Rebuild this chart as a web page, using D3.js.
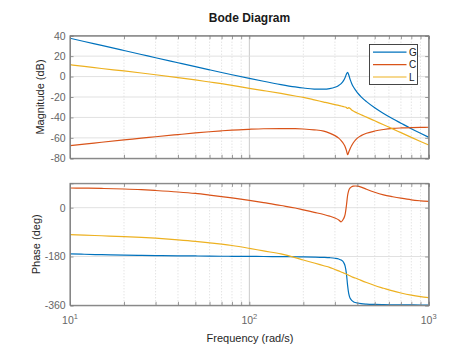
<!DOCTYPE html>
<html><head><meta charset="utf-8">
<script src="https://cdn.jsdelivr.net/npm/d3@7"></script>
<style>body{margin:0;background:#fff}svg{display:block;font-family:"Liberation Sans",Arial,sans-serif}</style>
</head><body><svg id="c" width="474" height="355"></svg>
<script>
const freq=[10,12,15,20,25,30,40,50,60,70,80,100,120,150,180,200,230,260,280,300,315,325,335,342,348,353,358,365,372,380,390,400,420,450,500,560,630,700,800,900,1000];
// Magnitude (dB)
const gMag=[37.5,34.3,30.5,25.5,21.6,18.4,13.5,9.7,6.6,4.0,1.8,-1.8,-4.6,-7.8,-10.1,-11.2,-12.2,-12.3,-11.8,-10.5,-8.7,-6.9,-4.0,-0.9,2.5,4.2,1.8,-3.0,-6.7,-10.0,-13.1,-15.7,-19.8,-24.5,-30.5,-36.1,-41.3,-45.6,-51.0,-55.5,-59.4];
const cMag=[-67.6,-66.2,-64.3,-62.0,-60.3,-58.9,-56.8,-55.2,-54.0,-53.1,-52.4,-51.6,-51.1,-50.9,-51.0,-51.3,-52.1,-53.4,-55.4,-57.8,-60.3,-62.8,-65.8,-68.6,-72.5,-76.5,-74.0,-70.5,-67.5,-64.8,-62.2,-60.2,-57.8,-55.5,-53.3,-51.8,-50.8,-50.3,-49.9,-49.7,-49.6];
const lMag=[11.6,10.0,7.9,5.5,3.5,1.8,-1.0,-3.3,-5.3,-7.0,-8.6,-11.5,-13.7,-16.5,-19.0,-20.4,-22.8,-25.0,-26.3,-27.4,-28.2,-28.8,-29.4,-29.8,-30.4,-31.2,-30.4,-31.3,-32.7,-33.8,-34.8,-35.6,-37.4,-39.7,-43.3,-47.2,-51.2,-54.9,-59.5,-63.5,-67.0];
// Phase (deg)
const gPh=[-170,-171.7,-173.3,-175.0,-176.0,-176.6,-177.5,-178.0,-178.6,-179.0,-179.2,-179.6,-180.0,-180.4,-180.9,-181.3,-182.0,-183.1,-184.3,-186.4,-189.4,-193.2,-201.4,-215.3,-245.0,-286.7,-316.4,-334.3,-342.0,-346.5,-349.8,-351.6,-353.9,-355.6,-356.9,-357.6,-358.1,-358.5,-358.7,-358.9,-359.0];
const cPh=[72.7,72.2,71.0,69.0,66.5,63.5,58.0,52.5,46.5,41.0,36.0,27.0,19.0,8.0,-1.0,-8.0,-17.0,-25.0,-31.0,-38.0,-45.0,-52.0,-41.0,-25.0,10.0,45.0,63.0,73.0,77.5,79.5,80.0,79.5,76.0,68.0,57.0,47.5,40.5,35.0,29.0,25.5,23.0];
const lPh=[-99,-101,-103.5,-106.5,-109.5,-112.5,-118.5,-124,-129.5,-134.5,-139.5,-150,-159.5,-170.5,-184,-193,-204,-214,-220,-228,-233,-237,-240.5,-243,-245,-247,-249,-252,-254.5,-257,-259.5,-262,-268,-276,-287,-297,-307,-314.5,-322.5,-328,-332];
const seriesNames=["G","C","L"];
const colors=["#0072BD","#D95319","#EDB120"];
const magTicks=[-80,-60,-40,-20,0,20,40];
const phTicks=[-360,-180,0];
const xMajor=[10,100,1000];
const xMinor=[20,30,40,50,60,70,80,90,200,300,400,500,600,700,800,900];

const svg=d3.select("#c");
const x=d3.scaleLog().domain([10,1000]).range([70,428.7]);
const yM=d3.scaleLinear().domain([-80,40]).range([158.3,35.7]);
const yP=d3.scaleLinear().domain([-360,90]).range([305.3,183.3]);

function panel(y,ticks,series,id,showX){
  const [y0,y1]=y.range();
  const g=svg.append("g");
  g.append("rect").attr("x",70).attr("y",y1).attr("width",358.7).attr("height",y0-y1).attr("fill","#fff");
  g.selectAll(".mn").data(xMinor).enter().append("line")
    .attr("x1",d=>x(d)).attr("x2",d=>x(d)).attr("y1",y1).attr("y2",y0)
    .attr("stroke","#cfcfcf").attr("stroke-width",0.8).attr("stroke-dasharray","1,2");
  g.selectAll(".mj").data(xMajor).enter().append("line")
    .attr("x1",d=>x(d)).attr("x2",d=>x(d)).attr("y1",y1).attr("y2",y0)
    .attr("stroke","#c4c4c4").attr("stroke-width",0.9);
  g.selectAll(".yg").data(ticks).enter().append("line")
    .attr("x1",70).attr("x2",428.7).attr("y1",d=>y(d)).attr("y2",d=>y(d))
    .attr("stroke","#dedede").attr("stroke-width",0.9);
  g.append("clipPath").attr("id",id).append("rect").attr("x",70).attr("y",y1).attr("width",358.7).attr("height",y0-y1);
  const line=d3.line().x((d,i)=>x(freq[i])).y(d=>y(d)).curve(d3.curveMonotoneX);
  series.forEach((s,k)=>{
    g.append("path").attr("d",line(s)).attr("fill","none").attr("stroke",colors[k])
      .attr("stroke-width",1.2).attr("clip-path","url(#"+id+")");
  });
  const tl=3.5;
  const bottom=g.append("g").attr("transform","translate(0,"+y0+")")
    .call(d3.axisBottom(x).tickValues(xMajor.concat(xMinor)).tickSize(-tl).tickFormat(""));
  const top=g.append("g").attr("transform","translate(0,"+y1+")")
    .call(d3.axisTop(x).tickValues(xMajor.concat(xMinor)).tickSize(-tl).tickFormat(""));
  const left=g.append("g").attr("transform","translate(70,0)")
    .call(d3.axisLeft(y).tickValues(ticks).tickSize(-tl).tickPadding(4.3).tickFormat(d=>String(d)));
  const right=g.append("g").attr("transform","translate(428.7,0)")
    .call(d3.axisRight(y).tickValues(ticks).tickSize(-tl).tickFormat(""));
  [bottom,top,left,right].forEach(a=>{
    a.select(".domain").attr("stroke","#808080").attr("stroke-width",0.9);
    a.selectAll(".tick line").attr("stroke","#808080").attr("stroke-width",0.8);
  });
  left.selectAll(".tick text").attr("fill","#666").attr("font-size","10.5px")
    .attr("font-family","'Liberation Sans',Arial,sans-serif");
  g.append("rect").attr("x",70).attr("y",y1).attr("width",358.7).attr("height",y0-y1)
    .attr("fill","none").attr("stroke","#808080").attr("stroke-width",0.9);
  if(showX){
    xMajor.forEach(v=>{
      const t=g.append("text").attr("x",x(v)).attr("y",y0+18.5).attr("text-anchor","middle")
        .attr("fill","#666").attr("font-size","10.5px");
      t.append("tspan").text("10");
      t.append("tspan").attr("dy",-5).attr("font-size","7.5px").text(String(Math.round(Math.log10(v))));
    });
  }
}
panel(yM,magTicks,[gMag,cMag,lMag],"clipM",false);
panel(yP,phTicks,[gPh,cPh,lPh],"clipP",true);

svg.append("text").attr("x",249.5).attr("y",21.7).attr("text-anchor","middle")
  .attr("font-weight","bold").attr("font-size","12px").attr("fill","#1a1a1a").text("Bode Diagram");
svg.append("text").attr("transform","translate(44.3,97) rotate(-90)").attr("text-anchor","middle")
  .attr("font-size","11px").attr("fill","#262626").text("Magnitude (dB)");
svg.append("text").attr("transform","translate(39.5,244.3) rotate(-90)").attr("text-anchor","middle")
  .attr("font-size","11px").attr("fill","#262626").text("Phase (deg)");
svg.append("text").attr("x",250).attr("y",341.5).attr("text-anchor","middle")
  .attr("font-size","11px").attr("fill","#262626").text("Frequency (rad/s)");

const lg=svg.append("g");
lg.append("rect").attr("x",369.5).attr("y",44.5).attr("width",48).attr("height",40)
  .attr("fill","#fff").attr("stroke","#333").attr("stroke-width",0.9);
seriesNames.forEach((n,i)=>{
  const yy=52.2+i*12.4;
  lg.append("line").attr("x1",373).attr("x2",406.5).attr("y1",yy).attr("y2",yy)
    .attr("stroke",colors[i]).attr("stroke-width",1.2);
  lg.append("text").attr("x",409).attr("y",yy+3.6).attr("font-size","10px").attr("fill","#1a1a1a").text(n);
});
</script></body></html>
